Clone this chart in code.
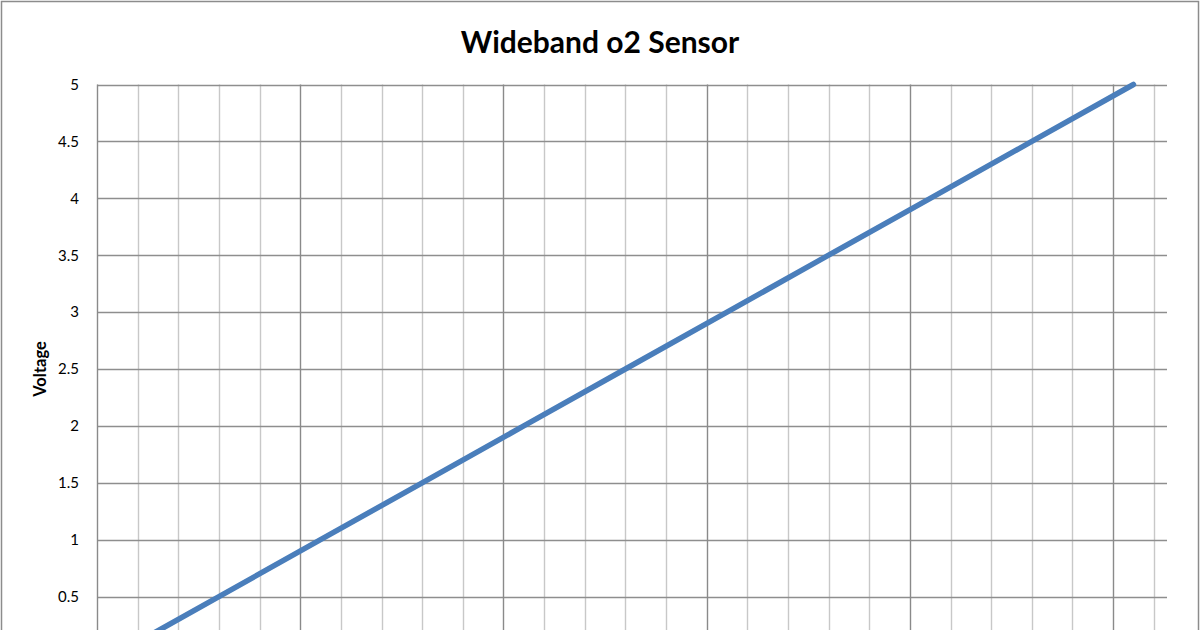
<!DOCTYPE html>
<html>
<head>
<meta charset="utf-8">
<script src="https://cdn.jsdelivr.net/npm/d3@7"></script>
<style>
  html, body { margin: 0; padding: 0; overflow: hidden; background: #fff; }
  svg { display: block; }
</style>
</head>
<body>
<div id="chart"></div>
<script>
//size (chart runs below the window, bottom gets cropped like the reference)
const width = 1200;
const height = 720;
const margin = { top: 84.5, right: 33, bottom: 66.5, left: 97 };

//data: air/fuel ratio vs sensor output voltage
const afr = [10, 11, 12, 13, 14, 15, 16, 17, 18, 19, 20];
const voltage = [0, 0.5, 1, 1.5, 2, 2.5, 3, 3.5, 4, 4.5, 5];

//axis ticks (0 sits below the visible area)
const yTicks = [0.5, 1, 1.5, 2, 2.5, 3, 3.5, 4, 4.5, 5];
const xMajorTicks = [9.8, 11.8, 13.8, 15.8, 17.8, 19.8];
const xDomain = [9.8, 20.33];
const xMinorStep = 0.4;

const title = "Wideband o2 Sensor";
const yTitle = "Voltage";

//scales
const x = d3
  .scaleLinear()
  .domain(xDomain)
  .range([margin.left, width - margin.right]);
const y = d3
  .scaleLinear()
  .domain([0, 5])
  .range([height - margin.bottom, margin.top]);

const svg = d3
  .select("#chart")
  .append("svg")
  .attr("width", width)
  .attr("height", height);

//chart frame
svg
  .append("rect")
  .attr("x", 1.5)
  .attr("y", 1.5)
  .attr("width", width - 3)
  .attr("height", height - 3)
  .attr("fill", "#fff")
  .attr("stroke", "#8c8c8c")
  .attr("stroke-width", 1.5);

//minor vertical gridlines
const xMinor = d3
  .range(xDomain[0], xDomain[1], xMinorStep)
  .filter((v) => !xMajorTicks.some((m) => Math.abs(m - v) < 1e-6));

svg
  .append("g")
  .attr("class", "grid-minor")
  .selectAll("line")
  .data(xMinor)
  .enter()
  .append("line")
  .attr("x1", (d) => Math.round(x(d)) + 0.5)
  .attr("x2", (d) => Math.round(x(d)) + 0.5)
  .attr("y1", margin.top)
  .attr("y2", height - margin.bottom)
  .attr("stroke", "#c8c8c8")
  .attr("stroke-width", 1.4);

//horizontal gridlines
svg
  .append("g")
  .attr("class", "grid-y")
  .selectAll("line")
  .data(yTicks)
  .enter()
  .append("line")
  .attr("x1", margin.left)
  .attr("x2", width - margin.right)
  .attr("y1", (d) => Math.round(y(d)) + 0.5)
  .attr("y2", (d) => Math.round(y(d)) + 0.5)
  .attr("stroke", "#8e8e8e")
  .attr("stroke-width", 1.3);

//major vertical gridlines
svg
  .append("g")
  .attr("class", "grid-major")
  .selectAll("line")
  .data(xMajorTicks)
  .enter()
  .append("line")
  .attr("x1", (d) => Math.round(x(d)) + 0.5)
  .attr("x2", (d) => Math.round(x(d)) + 0.5)
  .attr("y1", margin.top)
  .attr("y2", height - margin.bottom)
  .attr("stroke", "#8a8a8a")
  .attr("stroke-width", 1.4);

//y axis labels
const yAxis = d3
  .axisLeft(y)
  .tickValues(yTicks)
  .tickSize(0)
  .tickPadding(18)
  .tickFormat(d3.format("~g"));

svg
  .append("g")
  .attr("transform", `translate(${margin.left},0)`)
  .call(yAxis)
  .call((g) => g.select(".domain").remove())
  .call((g) =>
    g
      .selectAll("text")
      .attr("font-family", "Lato, 'Open Sans', sans-serif")
      .attr("font-size", 15)
      .attr("fill", "#000")
  );

//series line
const line = d3
  .line()
  .x((d, i) => x(afr[i]))
  .y((d) => y(d));

svg
  .append("path")
  .datum(voltage)
  .attr("fill", "none")
  .attr("stroke", "#4a7ebb")
  .attr("stroke-width", 5.5)
  .attr("stroke-linecap", "round")
  .attr("d", line);

//title
svg
  .append("text")
  .attr("x", width / 2)
  .attr("y", 53)
  .attr("text-anchor", "middle")
  .attr("font-family", "Lato, 'Open Sans', sans-serif")
  .attr("font-weight", "bold")
  .attr("font-size", 30)
  .attr("fill", "#000")
  .text(title);

//y axis title
svg
  .append("text")
  .attr("transform", `translate(46,369) rotate(-90)`)
  .attr("text-anchor", "middle")
  .attr("font-family", "Lato, 'Open Sans', sans-serif")
  .attr("font-weight", "bold")
  .attr("font-size", 16.5)
  .attr("fill", "#000")
  .text(yTitle);
</script>
</body>
</html>
